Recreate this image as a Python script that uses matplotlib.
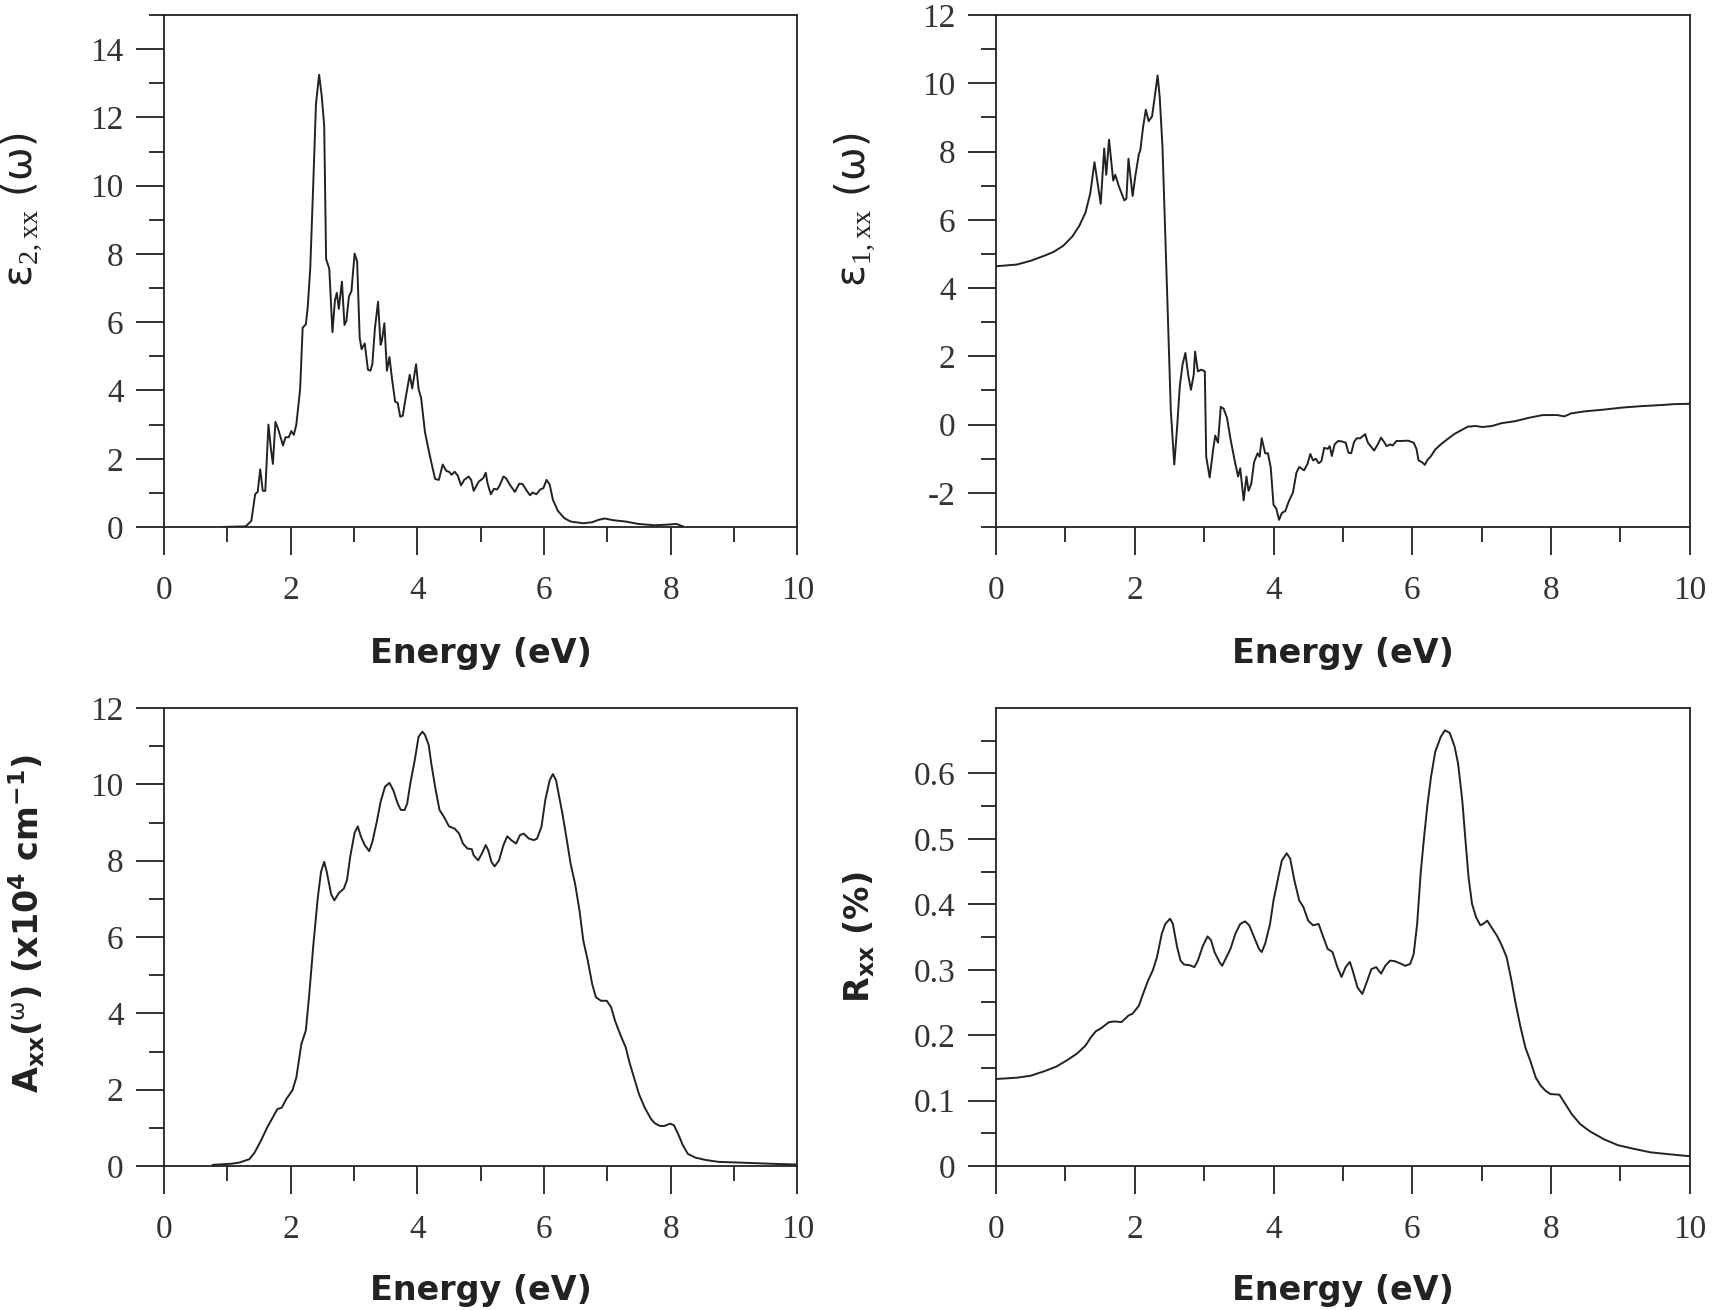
import matplotlib
matplotlib.use('Agg')
import matplotlib.pyplot as plt
from matplotlib.ticker import MultipleLocator, FixedLocator, FuncFormatter

# --- data (energy in eV) ---
e2_x = [0.91, 1.29, 1.38, 1.44, 1.48, 1.52, 1.56, 1.60, 1.65, 1.69, 1.72, 1.76, 1.80, 1.88, 1.92,
        1.97, 2.01, 2.05, 2.09, 2.15, 2.19, 2.24, 2.27, 2.31, 2.36, 2.40, 2.45, 2.49, 2.53, 2.56,
        2.61, 2.66, 2.70, 2.73, 2.76, 2.81, 2.85, 2.88, 2.92, 2.96, 3.01, 3.05, 3.09, 3.12, 3.17,
        3.22, 3.26, 3.29, 3.33, 3.38, 3.42, 3.44, 3.48, 3.52, 3.56, 3.60, 3.65, 3.69, 3.73, 3.77,
        3.82, 3.88, 3.92, 3.98, 4.02, 4.06, 4.12, 4.16, 4.22, 4.28, 4.34, 4.40, 4.46, 4.50, 4.54,
        4.59, 4.64, 4.69, 4.74, 4.81, 4.85, 4.89, 4.97, 5.04, 5.08, 5.11, 5.16, 5.21, 5.26, 5.30,
        5.36, 5.40, 5.46, 5.54, 5.61, 5.66, 5.74, 5.78, 5.82, 5.88, 5.94, 5.99, 6.04, 6.09, 6.14,
        6.22, 6.32, 6.42, 6.62, 6.76, 6.86, 6.96, 7.09, 7.29, 7.49, 7.75, 7.95, 8.09, 8.19]
e2_y = [0.0, 0.02, 0.18, 0.96, 1.03, 1.69, 1.06, 1.06, 3.00, 2.27, 1.85, 3.08, 2.89, 2.39, 2.63,
        2.63, 2.81, 2.70, 3.00, 4.04, 5.84, 5.94, 6.44, 7.59, 10.2, 12.4, 13.25, 12.65, 11.76, 7.85,
        7.57, 5.71, 6.65, 6.86, 6.39, 7.19, 5.92, 6.04, 6.75, 6.91, 8.01, 7.78, 5.55, 5.21, 5.38,
        4.61, 4.58, 4.77, 5.81, 6.60, 5.34, 5.45, 5.97, 4.58, 4.98, 4.35, 3.67, 3.64, 3.23, 3.26,
        3.83, 4.46, 4.06, 4.77, 4.04, 3.78, 2.79, 2.42, 1.90, 1.41, 1.38, 1.83, 1.64, 1.62, 1.53,
        1.62, 1.50, 1.22, 1.38, 1.48, 1.38, 1.06, 1.33, 1.43, 1.59, 1.27, 0.96, 1.12, 1.10, 1.22,
        1.48, 1.43, 1.24, 1.03, 1.27, 1.26, 1.03, 0.93, 1.01, 0.96, 1.10, 1.14, 1.38, 1.24, 0.80,
        0.47, 0.26, 0.16, 0.11, 0.14, 0.21, 0.25, 0.20, 0.16, 0.09, 0.05, 0.07, 0.09, 0.02]

e1_x = [0.00, 0.30, 0.50, 0.70, 0.83, 0.97, 1.10, 1.20, 1.29, 1.36, 1.42, 1.51, 1.56, 1.59, 1.63,
        1.69, 1.72, 1.77, 1.85, 1.88, 1.91, 1.97, 2.01, 2.06, 2.08, 2.12, 2.16, 2.20, 2.25, 2.29,
        2.33, 2.36, 2.40, 2.44, 2.48, 2.52, 2.57, 2.61, 2.65, 2.69, 2.73, 2.77, 2.81, 2.85, 2.87,
        2.91, 2.96, 3.01, 3.03, 3.08, 3.13, 3.16, 3.20, 3.24, 3.28, 3.33, 3.38, 3.44, 3.49, 3.52,
        3.57, 3.61, 3.64, 3.68, 3.72, 3.77, 3.80, 3.83, 3.88, 3.92, 3.96, 4.00, 4.04, 4.08, 4.12,
        4.17, 4.22, 4.28, 4.33, 4.37, 4.44, 4.49, 4.53, 4.57, 4.61, 4.65, 4.69, 4.73, 4.78, 4.81,
        4.84, 4.88, 4.93, 4.98, 5.04, 5.08, 5.12, 5.16, 5.20, 5.25, 5.32, 5.36, 5.45, 5.51, 5.55,
        5.60, 5.63, 5.68, 5.72, 5.77, 5.84, 5.94, 6.02, 6.06, 6.09, 6.14, 6.18, 6.22, 6.27, 6.33,
        6.41, 6.51, 6.61, 6.71, 6.80, 6.91, 7.01, 7.15, 7.28, 7.48, 7.68, 7.88, 8.09, 8.19, 8.29,
        8.49, 8.76, 9.03, 9.29, 9.56, 9.77, 10.0]
e1_y = [4.64, 4.69, 4.80, 4.95, 5.06, 5.24, 5.51, 5.82, 6.21, 6.78, 7.69, 6.47, 8.09, 7.32, 8.35,
        7.15, 7.32, 6.99, 6.57, 6.62, 7.79, 6.70, 7.30, 7.93, 8.03, 8.71, 9.23, 8.89, 9.03, 9.62,
        10.23, 9.60, 8.14, 5.63, 3.02, 0.41, -1.17, -0.10, 1.14, 1.77, 2.10, 1.46, 1.02, 1.46, 2.14,
        1.56, 1.61, 1.56, -0.94, -1.55, -0.73, -0.32, -0.53, 0.52, 0.47, 0.20, -0.42, -1.05, -1.52, -1.28,
        -2.22, -1.52, -1.94, -1.73, -1.10, -0.84, -0.94, -0.40, -0.84, -0.84, -1.26, -2.35, -2.46, -2.79, -2.59,
        -2.53, -2.25, -1.99, -1.41, -1.24, -1.34, -1.15, -0.86, -1.05, -1.00, -1.13, -1.07, -0.68, -0.71, -0.63,
        -0.92, -0.58, -0.48, -0.49, -0.53, -0.82, -0.84, -0.51, -0.40, -0.40, -0.28, -0.53, -0.76, -0.55, -0.38,
        -0.53, -0.63, -0.58, -0.61, -0.48, -0.48, -0.47, -0.53, -0.71, -1.05, -1.10, -1.18, -1.03, -0.92, -0.73,
        -0.58, -0.42, -0.27, -0.16, -0.06, -0.04, -0.07, -0.04, 0.04, 0.10, 0.20, 0.28, 0.28, 0.24, 0.33,
        0.39, 0.44, 0.50, 0.54, 0.57, 0.60, 0.61]

abs_x = [0.77, 1.06, 1.19, 1.35, 1.43, 1.53, 1.63, 1.71, 1.79, 1.86, 1.93, 2.03, 2.09, 2.17, 2.24,
         2.29, 2.36, 2.43, 2.48, 2.53, 2.57, 2.64, 2.69, 2.76, 2.84, 2.89, 2.94, 3.01, 3.06, 3.11,
         3.17, 3.24, 3.29, 3.36, 3.42, 3.49, 3.56, 3.62, 3.69, 3.74, 3.80, 3.84, 3.89, 3.96, 4.02,
         4.08, 4.12, 4.18, 4.22, 4.29, 4.35, 4.42, 4.50, 4.59, 4.66, 4.72, 4.79, 4.86, 4.89, 4.96,
         5.02, 5.08, 5.12, 5.17, 5.22, 5.29, 5.36, 5.42, 5.49, 5.56, 5.62, 5.68, 5.76, 5.84, 5.89,
         5.96, 6.02, 6.09, 6.14, 6.19, 6.24, 6.29, 6.36, 6.42, 6.49, 6.56, 6.62, 6.69, 6.76, 6.82,
         6.90, 6.99, 7.06, 7.12, 7.21, 7.29, 7.35, 7.42, 7.50, 7.59, 7.69, 7.75, 7.83, 7.90, 7.99,
         8.05, 8.12, 8.19, 8.27, 8.39, 8.55, 8.75, 9.09, 9.42, 9.75, 10.0]
abs_y = [0.03, 0.06, 0.09, 0.18, 0.35, 0.66, 1.01, 1.25, 1.49, 1.53, 1.75, 1.99, 2.32, 3.20, 3.55,
         4.42, 5.82, 7.05, 7.71, 7.97, 7.71, 7.12, 6.96, 7.15, 7.27, 7.49, 8.10, 8.73, 8.90, 8.63,
         8.41, 8.25, 8.49, 9.02, 9.54, 9.94, 10.04, 9.85, 9.50, 9.33, 9.33, 9.50, 10.03, 10.64, 11.25,
         11.38, 11.30, 11.03, 10.55, 9.85, 9.33, 9.15, 8.90, 8.84, 8.71, 8.45, 8.32, 8.30, 8.14, 8.01,
         8.19, 8.41, 8.27, 7.97, 7.85, 8.01, 8.41, 8.64, 8.53, 8.45, 8.67, 8.71, 8.58, 8.54, 8.58,
         8.89, 9.59, 10.11, 10.27, 10.11, 9.67, 9.24, 8.54, 7.92, 7.40, 6.70, 5.91, 5.39, 4.77, 4.42,
         4.33, 4.33, 4.16, 3.81, 3.42, 3.11, 2.71, 2.32, 1.88, 1.53, 1.23, 1.12, 1.05, 1.05, 1.11,
         1.07, 0.83, 0.55, 0.32, 0.22, 0.16, 0.11, 0.09, 0.07, 0.05, 0.04]

ref_x = [0.00, 0.30, 0.50, 0.70, 0.87, 1.03, 1.17, 1.29, 1.37, 1.44, 1.52, 1.63, 1.71, 1.81, 1.91,
         1.97, 2.06, 2.12, 2.19, 2.26, 2.32, 2.39, 2.44, 2.51, 2.55, 2.61, 2.66, 2.71, 2.79, 2.86,
         2.91, 2.98, 3.05, 3.10, 3.15, 3.22, 3.26, 3.32, 3.38, 3.45, 3.52, 3.59, 3.65, 3.72, 3.79,
         3.83, 3.88, 3.95, 4.00, 4.07, 4.12, 4.19, 4.24, 4.30, 4.37, 4.43, 4.50, 4.57, 4.65, 4.71,
         4.78, 4.85, 4.92, 4.98, 5.04, 5.10, 5.14, 5.21, 5.28, 5.35, 5.41, 5.48, 5.55, 5.61, 5.68,
         5.75, 5.82, 5.90, 5.97, 6.02, 6.07, 6.12, 6.17, 6.22, 6.27, 6.33, 6.41, 6.47, 6.54, 6.61,
         6.66, 6.72, 6.77, 6.81, 6.86, 6.92, 6.98, 7.02, 7.08, 7.14, 7.22, 7.29, 7.36, 7.43, 7.49,
         7.56, 7.63, 7.70, 7.78, 7.85, 7.92, 7.99, 8.12, 8.21, 8.30, 8.42, 8.56, 8.76, 8.96, 9.16,
         9.43, 9.70, 10.0]
ref_y = [0.133, 0.135, 0.138, 0.145, 0.152, 0.162, 0.172, 0.184, 0.197, 0.206, 0.211, 0.220, 0.221, 0.220, 0.230,
         0.233, 0.245, 0.263, 0.283, 0.299, 0.319, 0.355, 0.370, 0.378, 0.370, 0.335, 0.314, 0.308, 0.307, 0.304,
         0.314, 0.336, 0.351, 0.345, 0.327, 0.312, 0.306, 0.319, 0.332, 0.355, 0.370, 0.374, 0.368, 0.350, 0.332,
         0.327, 0.340, 0.370, 0.406, 0.442, 0.467, 0.478, 0.470, 0.437, 0.406, 0.396, 0.375, 0.368, 0.370, 0.352,
         0.332, 0.327, 0.304, 0.289, 0.304, 0.312, 0.299, 0.273, 0.263, 0.283, 0.301, 0.304, 0.294, 0.306, 0.314,
         0.313, 0.310, 0.306, 0.309, 0.324, 0.370, 0.447, 0.503, 0.554, 0.595, 0.633, 0.656, 0.666, 0.662, 0.641,
         0.615, 0.559, 0.493, 0.442, 0.401, 0.380, 0.368, 0.370, 0.375, 0.365, 0.352, 0.337, 0.319, 0.283, 0.248,
         0.212, 0.181, 0.161, 0.135, 0.123, 0.115, 0.110, 0.109, 0.094, 0.079, 0.064, 0.053, 0.041, 0.032, 0.027,
         0.021, 0.018, 0.015]

ref_ticks = [0.0, 0.1, 0.2, 0.3, 0.4, 0.5, 0.6]

plt.rcParams['axes.unicode_minus'] = False
plt.rcParams['mathtext.fontset'] = 'custom'
plt.rcParams['mathtext.rm'] = 'Liberation Serif'
plt.rcParams['mathtext.bf'] = 'DejaVu Sans:bold'
plt.rcParams['mathtext.sf'] = 'DejaVu Sans'

ink = '#222222'
tick_font = {'family': 'Liberation Serif', 'size': 24, 'color': '#333333'}
xlab_font = {'family': 'DejaVu Sans', 'size': 24, 'weight': 'bold', 'color': ink}

fig = plt.figure(figsize=(17.13, 13.10), dpi=100)
ax1 = fig.add_axes([0.0957, 0.5977, 0.3698, 0.3908])
ax2 = fig.add_axes([0.5814, 0.5977, 0.4051, 0.3908])
ax3 = fig.add_axes([0.0957, 0.1099, 0.3698, 0.3496])
ax4 = fig.add_axes([0.5814, 0.1099, 0.4051, 0.3496])

ax1.plot(e2_x, e2_y, color=ink, lw=1.4)
ax2.plot(e1_x, e1_y, color=ink, lw=1.4)
ax3.plot(abs_x, abs_y, color=ink, lw=1.4)
ax4.plot(ref_x, ref_y, color=ink, lw=1.4)

ax1.set_ylim(0, 15)
ax2.set_ylim(-3, 12)
ax3.set_ylim(0, 12)
ax4.set_ylim(0, 0.7)

for ax in (ax1, ax2, ax3, ax4):
    ax.set_xlim(0, 10)
    ax.xaxis.set_major_locator(MultipleLocator(2))
    ax.xaxis.set_minor_locator(MultipleLocator(1))
    ax.tick_params(which='both', direction='out', top=False, right=False, width=1.3, colors=ink)
    ax.tick_params(which='major', length=20)
    ax.tick_params(which='minor', length=11)
    ax.tick_params(axis='x', which='major', pad=15)
    ax.tick_params(axis='y', which='major', pad=9)
    for s in ax.spines.values():
        s.set_linewidth(1.3)
        s.set_color(ink)
    ax.set_xlabel('Energy (eV)', fontdict=xlab_font)

for ax in (ax1, ax2, ax3):
    ax.yaxis.set_major_locator(MultipleLocator(2))
    ax.yaxis.set_minor_locator(MultipleLocator(1))
ax4.yaxis.set_major_locator(FixedLocator(ref_ticks))
ax4.yaxis.set_minor_locator(FixedLocator([t + 0.05 for t in ref_ticks]))
ax4.yaxis.set_major_formatter(FuncFormatter(lambda v, p: '0' if abs(v) < 1e-9 else f'{v:.1f}'))

for ax in (ax1, ax2, ax3, ax4):
    for lab in ax.get_xticklabels() + ax.get_yticklabels():
        lab.set_fontfamily(tick_font['family'])
        lab.set_fontsize(tick_font['size'])
        lab.set_color(tick_font['color'])

ax1.xaxis.set_label_coords(0.5, -0.215)
ax2.xaxis.set_label_coords(0.5, -0.215)
ax3.xaxis.set_label_coords(0.5, -0.236)
ax4.xaxis.set_label_coords(0.5, -0.236)

eps_font = {'family': 'DejaVu Sans', 'size': 29, 'color': ink}
ax1.set_ylabel(r'ε$_{\mathrm{2,xx}}$ (ω)', fontdict=eps_font)
ax2.set_ylabel(r'ε$_{\mathrm{1,xx}}$ (ω)', fontdict=eps_font)
ax3.set_ylabel(r'A$_{\mathbf{xx}}$($^{\mathsf{ω}}$) (x10$^{\mathbf{4}}$ cm$^{\mathbf{-1}}$)', fontdict=xlab_font)
ax4.set_ylabel(r'R$_{\mathbf{xx}}$ (%)', fontdict=xlab_font)

ax1.yaxis.set_label_coords(-0.19, 0.62)
ax2.yaxis.set_label_coords(-0.172, 0.62)
ax3.yaxis.set_label_coords(-0.185, 0.53)
ax4.yaxis.set_label_coords(-0.171, 0.5)

fig.savefig('out.png', dpi=100)
